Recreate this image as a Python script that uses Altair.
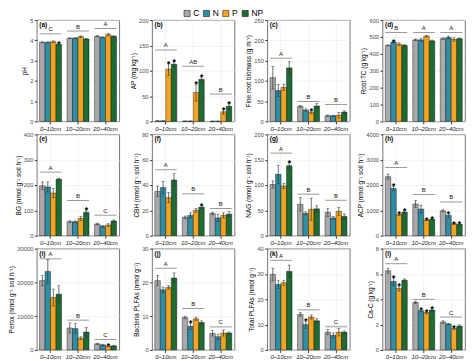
import altair as alt
import pandas as pd

DEPTHS = ["0–10cm", "10–20cm", "20–40cm"]
TRTS = ["C", "N", "P", "NP"]
COLORS = ["#A9A9A9", "#2E8EA6", "#F6A31F", "#1E6B33"]

# (a) pH
PH_MEAN = [[3.90, 3.90, 3.93, 3.80], [4.10, 4.11, 4.18, 4.07], [4.20, 4.15, 4.28, 4.20]]
PH_ERR = [[0.03, 0.02, 0.04, 0.03], [0.02, 0.02, 0.04, 0.02], [0.03, 0.02, 0.06, 0.02]]
PH_STARS = [[0, 0, 0, 1], [0, 0, 0, 0], [0, 0, 0, 0]]
PH_LETTERS = ["C", "B", "A"]
PH_LY = [4.32, 4.46, 4.59]
PH_TICKS = [0, 1, 2, 3, 4, 5]

# (b) AP
AP_MEAN = [[1.0, 1.0, 103, 113], [0.6, 0.6, 57, 83], [0.4, 0.4, 19, 30]]
AP_ERR = [[0.2, 0.2, 12, 5], [0.1, 0.1, 17, 5], [0.1, 0.1, 5, 6]]
AP_STARS = [[0, 0, 1, 1], [0, 0, 1, 1], [0, 0, 1, 1]]
AP_LETTERS = ["A", "AB", "B"]
AP_LY = [141, 109, 54]
AP_TICKS = [0, 50, 100, 150, 200]

# (c) Fine root biomass
FR_MEAN = [[108, 76, 84, 132], [37, 28, 23, 38], [14, 14, 15, 23]]
FR_ERR = [[28, 15, 8, 15], [2, 3, 4, 6], [2, 1, 7, 3]]
FR_STARS = [[0, 0, 0, 0], [0, 0, 1, 0], [0, 0, 0, 0]]
FR_LETTERS = ["A", "B", "B"]
FR_LY = [156, 49, 42]
FR_TICKS = [0, 50, 100, 150, 200, 250]

# (d) Root TC
TC_MEAN = [[450, 470, 457, 450], [483, 483, 505, 477], [490, 497, 485, 490]]
TC_ERR = [[3, 4, 8, 4], [5, 10, 5, 5], [5, 8, 10, 4]]
TC_STARS = [[0, 1, 0, 0], [0, 0, 0, 0], [0, 0, 0, 0]]
TC_LETTERS = ["B", "A", "A"]
TC_LY = [526, 526, 526]
TC_TICKS = [0, 100, 200, 300, 400, 500, 600]

# (e) BG
BG_MEAN = [[197, 192, 168, 223], [55, 55, 68, 92], [46, 37, 42, 58]]
BG_ERR = [[15, 20, 18, 3], [4, 3, 8, 10], [3, 3, 5, 4]]
BG_STARS = [[0, 0, 0, 0], [0, 0, 0, 1], [0, 0, 0, 0]]
BG_LETTERS = ["A", "B", "C"]
BG_LY = [251, 139, 81]
BG_TICKS = [0, 100, 200, 300, 400]

# (f) CBH
CBH_MEAN = [[35, 38, 30, 44], [14.5, 16, 20, 22.5], [17.5, 14, 16, 17]]
CBH_ERR = [[4, 5, 4, 5], [1, 2, 1.5, 1.5], [1, 3, 2, 2]]
CBH_STARS = [[0, 0, 0, 0], [0, 0, 0, 1], [0, 0, 0, 0]]
CBH_LETTERS = ["A", "B", "B"]
CBH_LY = [52, 33, 21.5]
CBH_TICKS = [0, 20, 40, 60, 80]

# (g) NAG
NAG_MEAN = [[101, 121, 98, 138], [62, 44, 52, 53], [46, 35, 48, 38]]
NAG_ERR = [[7, 18, 5, 6], [13, 3, 22, 6], [8, 3, 8, 5]]
NAG_STARS = [[0, 0, 0, 1], [0, 0, 0, 0], [0, 0, 0, 0]]
NAG_LETTERS = ["A", "B", "B"]
NAG_LY = [163, 82, 70]
NAG_TICKS = [0, 50, 100, 150, 200]

# (h) ACP
ACP_MEAN = [[2330, 1860, 830, 930], [1250, 1050, 620, 650], [980, 800, 470, 450]]
ACP_ERR = [[100, 100, 30, 50], [130, 150, 30, 30], [40, 90, 20, 20]]
ACP_STARS = [[0, 1, 1, 1], [0, 0, 1, 1], [0, 1, 1, 1]]
ACP_LETTERS = ["A", "B", "B"]
ACP_LY = [2686, 1620, 1330]
ACP_TICKS = [0, 1000, 2000, 3000, 4000]

# (i) Perox
PER_MEAN = [[20500, 23200, 15500, 16500], [6500, 6300, 3500, 5300], [1800, 1500, 1100, 1200]]
PER_ERR = [[1500, 3500, 2500, 2500], [1500, 1500, 400, 1300], [200, 200, 100, 200]]
PER_STARS = [[0, 0, 0, 0], [0, 0, 0, 0], [0, 0, 1, 0]]
PER_LETTERS = ["A", "B", "C"]
PER_LY = [26950, 8830, 3080]
PER_TICKS = [0, 10000, 20000, 30000]

# (j) Bacteria PLFAs
BAC_MEAN = [[20.5, 17.8, 18.5, 21.3], [9.6, 7.0, 9.2, 8.1], [4.9, 3.9, 5.0, 5.0]]
BAC_ERR = [[1.5, 0.8, 0.5, 1.5], [0.4, 1.0, 0.5, 0.5], [0.8, 0.8, 0.9, 0.3]]
BAC_STARS = [[0, 0, 0, 0], [0, 1, 0, 0], [0, 0, 0, 0]]
BAC_LETTERS = ["A", "B", "C"]
BAC_LY = [24.2, 12.3, 6.8]
BAC_TICKS = [0, 10, 20, 30]

# (k) Total PLFAs
TOT_MEAN = [[29.8, 25.8, 26.5, 31.0], [14.0, 10.0, 13.0, 11.5], [7.0, 5.7, 7.0, 7.0]]
TOT_ERR = [[2.5, 1.5, 1.0, 2.5], [0.7, 1.5, 0.8, 0.8], [1.0, 1.0, 1.5, 0.5]]
TOT_STARS = [[0, 0, 0, 0], [0, 1, 0, 0], [0, 0, 0, 0]]
TOT_LETTERS = ["A", "B", "C"]
TOT_LY = [35.4, 15.8, 9.1]
TOT_TICKS = [0, 10, 20, 30, 40]

# (l) Ca-C
CAC_MEAN = [[6.25, 5.4, 4.85, 5.5], [3.75, 3.1, 2.95, 3.15], [2.2, 2.05, 1.7, 1.88]]
CAC_ERR = [[0.2, 0.3, 0.2, 0.1], [0.1, 0.1, 0.1, 0.1], [0.1, 0.05, 0.1, 0.1]]
CAC_STARS = [[0, 1, 1, 0], [0, 1, 1, 1], [0, 0, 1, 0]]
CAC_LETTERS = ["A", "B", "C"]
CAC_LY = [6.8, 4.0, 2.6]
CAC_TICKS = [0, 2, 4, 6, 8]

PANELS = [
    ("(a)", "pH", PH_MEAN, PH_ERR, PH_STARS, PH_LETTERS, PH_LY, PH_TICKS),
    ("(b)", "AP (mg kg⁻¹)", AP_MEAN, AP_ERR, AP_STARS, AP_LETTERS, AP_LY, AP_TICKS),
    ("(c)", "Fine root biomass (g m⁻²)", FR_MEAN, FR_ERR, FR_STARS, FR_LETTERS, FR_LY, FR_TICKS),
    ("(d)", "Root TC (g kg⁻¹)", TC_MEAN, TC_ERR, TC_STARS, TC_LETTERS, TC_LY, TC_TICKS),
    ("(e)", "BG (nmol g⁻¹ soil h⁻¹)", BG_MEAN, BG_ERR, BG_STARS, BG_LETTERS, BG_LY, BG_TICKS),
    ("(f)", "CBH (nmol g⁻¹ soil h⁻¹)", CBH_MEAN, CBH_ERR, CBH_STARS, CBH_LETTERS, CBH_LY, CBH_TICKS),
    ("(g)", "NAG (nmol g⁻¹ soil h⁻¹)", NAG_MEAN, NAG_ERR, NAG_STARS, NAG_LETTERS, NAG_LY, NAG_TICKS),
    ("(h)", "ACP (nmol g⁻¹ soil h⁻¹)", ACP_MEAN, ACP_ERR, ACP_STARS, ACP_LETTERS, ACP_LY, ACP_TICKS),
    ("(i)", "Perox (nmol g⁻¹ soil h⁻¹)", PER_MEAN, PER_ERR, PER_STARS, PER_LETTERS, PER_LY, PER_TICKS),
    ("(j)", "Bacteria PLFAs (nmol g⁻¹)", BAC_MEAN, BAC_ERR, BAC_STARS, BAC_LETTERS, BAC_LY, BAC_TICKS),
    ("(k)", "Total PLFAs (nmol g⁻¹)", TOT_MEAN, TOT_ERR, TOT_STARS, TOT_LETTERS, TOT_LY, TOT_TICKS),
    ("(l)", "Ca-C (g kg⁻¹)", CAC_MEAN, CAC_ERR, CAC_STARS, CAC_LETTERS, CAC_LY, CAC_TICKS),
]

W, H = 83, 102
PAD_IN, PAD_OUT = 0.2, 0.1
STEP = W / (len(DEPTHS) - PAD_IN + 2 * PAD_OUT)
BAND = STEP * (1 - PAD_IN)

x_enc = alt.X("depth:N", sort=DEPTHS,
              scale=alt.Scale(paddingInner=PAD_IN, paddingOuter=PAD_OUT),
              axis=alt.Axis(title=None, labelAngle=0, labelFontStyle="italic",
                            labelFontSize=6, labelColor="#1a1a1a", grid=True))
xo_enc = alt.XOffset("trt:N", sort=TRTS, scale=alt.Scale(paddingInner=0, paddingOuter=0))


def make_panel(label, ytitle, mean, err, stars, letters, ly, ticks):
    rows = []
    for i, d in enumerate(DEPTHS):
        for j, t in enumerate(TRTS):
            rows.append({"depth": d, "trt": t, "mean": mean[i][j],
                         "lo": mean[i][j] - err[i][j], "hi": mean[i][j] + err[i][j],
                         "star": stars[i][j]})
    df = pd.DataFrame(rows)
    ldf = pd.DataFrame({"depth": DEPTHS, "letter": letters, "ly": ly})
    ysc = alt.Scale(domain=[ticks[0], ticks[-1]], nice=False, zero=True)
    yax = alt.Axis(values=ticks, title=ytitle, format="d", grid=True)

    def yy(field):
        return alt.Y(field, scale=ysc, axis=yax, title=ytitle)

    bars = alt.Chart(df).mark_bar(stroke="black", strokeWidth=0.4).encode(
        x=x_enc, xOffset=xo_enc,
        y=yy("mean:Q"),
        color=alt.Color("trt:N", scale=alt.Scale(domain=TRTS, range=COLORS),
                        legend=alt.Legend(title=None, orient="none", direction="horizontal",
                                          legendX=147, legendY=-11, padding=0,
                                          symbolType="square", symbolSize=38,
                                          symbolStrokeColor="black", symbolStrokeWidth=0.5,
                                          labelFontSize=8.5, labelOffset=2,
                                          columnPadding=2.5, labelColor="black")),
    )
    errs = alt.Chart(df).mark_rule(color="#333333", strokeWidth=0.7).encode(
        x=x_enc, xOffset=xo_enc, y=yy("lo:Q"), y2="hi:Q")
    caps = alt.Chart(df).transform_fold(["lo", "hi"], as_=["k", "v"]).mark_tick(
        orient="horizontal", size=3, thickness=0.7, color="#333333").encode(
        x=x_enc, xOffset=xo_enc, y=yy("v:Q"))
    st = alt.Chart(df).transform_filter("datum.star == 1").mark_text(
        text="*", fontSize=8.5, fontWeight="bold", color="black", baseline="alphabetic", dy=3.5).encode(
        x=x_enc, xOffset=xo_enc, y=yy("hi:Q"))
    lines = alt.Chart(ldf).mark_tick(orient="horizontal", size=BAND, thickness=0.7,
                                     color="#333333").encode(x=x_enc, y=yy("ly:Q"))
    ltext = alt.Chart(ldf).mark_text(fontSize=6, baseline="bottom", dy=-1.5,
                                     color="#1a1a1a").encode(x=x_enc, y=yy("ly:Q"), text="letter:N")
    plab = alt.Chart(pd.DataFrame({"t": [label]})).mark_text(
        fontSize=6.5, fontWeight="bold", align="left", baseline="top", color="black").encode(
        x=alt.value(2.5), y=alt.value(2), text="t:N")
    return alt.layer(bars, errs, caps, st, lines, ltext, plab).properties(width=W, height=H)


panels = [make_panel(*p) for p in PANELS]

chart = alt.concat(*panels, columns=4, spacing=alt.RowColnumber(row=13, column=33),
                   bounds="flush").resolve_scale(color="shared").properties(padding=0).configure(
    font="Liberation Sans").configure_view(
    stroke="#555555", strokeWidth=0.8).configure_axis(
    domain=False, gridColor="#ebebeb", gridWidth=0.6, tickColor="#333333", tickSize=2.5,
    labelFontSize=5.8, labelColor="#4d4d4d", labelPadding=1.5,
    titleFontSize=6.5, titleFontWeight="normal", titleColor="black", titlePadding=2)

chart.save("out.html", embed_options={"renderer": "svg", "actions": False})
